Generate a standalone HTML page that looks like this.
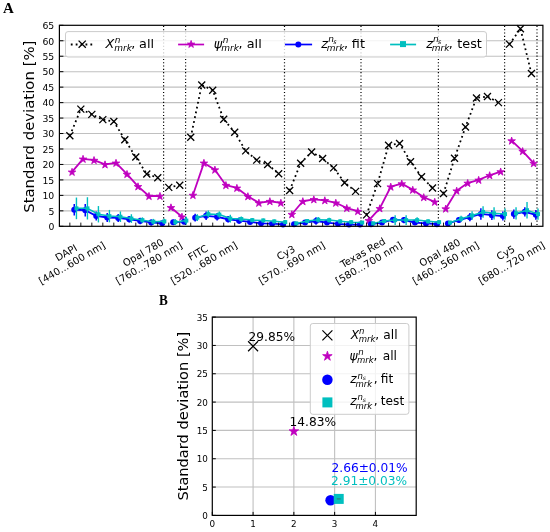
<!DOCTYPE html>
<html><head><meta charset="utf-8"><style>
html,body{margin:0;padding:0;background:#fff;}
svg{display:block;}

</style></head><body>
<svg width="550" height="532" viewBox="0 0 550 532">
<rect width="550" height="532" fill="#fff"/>
<line x1="59.4" y1="210.84" x2="542.9" y2="210.84" stroke="#c0c0c0" stroke-width="1.1" />
<line x1="59.4" y1="195.38" x2="542.9" y2="195.38" stroke="#c0c0c0" stroke-width="1.1" />
<line x1="59.4" y1="179.92" x2="542.9" y2="179.92" stroke="#c0c0c0" stroke-width="1.1" />
<line x1="59.4" y1="164.45" x2="542.9" y2="164.45" stroke="#c0c0c0" stroke-width="1.1" />
<line x1="59.4" y1="148.99" x2="542.9" y2="148.99" stroke="#c0c0c0" stroke-width="1.1" />
<line x1="59.4" y1="133.53" x2="542.9" y2="133.53" stroke="#c0c0c0" stroke-width="1.1" />
<line x1="59.4" y1="118.07" x2="542.9" y2="118.07" stroke="#c0c0c0" stroke-width="1.1" />
<line x1="59.4" y1="102.61" x2="542.9" y2="102.61" stroke="#c0c0c0" stroke-width="1.1" />
<line x1="59.4" y1="87.15" x2="542.9" y2="87.15" stroke="#c0c0c0" stroke-width="1.1" />
<line x1="59.4" y1="71.68" x2="542.9" y2="71.68" stroke="#c0c0c0" stroke-width="1.1" />
<line x1="59.4" y1="56.22" x2="542.9" y2="56.22" stroke="#c0c0c0" stroke-width="1.1" />
<line x1="59.4" y1="40.76" x2="542.9" y2="40.76" stroke="#c0c0c0" stroke-width="1.1" />
<line x1="163.6" y1="25.9" x2="163.6" y2="226.3" stroke="#000000" stroke-width="1.2" stroke-dasharray="1.1 2.2"/>
<line x1="185.6" y1="25.9" x2="185.6" y2="226.3" stroke="#000000" stroke-width="1.2" stroke-dasharray="1.1 2.2"/>
<line x1="284.5" y1="25.9" x2="284.5" y2="226.3" stroke="#000000" stroke-width="1.2" stroke-dasharray="1.1 2.2"/>
<line x1="361" y1="25.9" x2="361" y2="226.3" stroke="#000000" stroke-width="1.2" stroke-dasharray="1.1 2.2"/>
<line x1="438.4" y1="25.9" x2="438.4" y2="226.3" stroke="#000000" stroke-width="1.2" stroke-dasharray="1.1 2.2"/>
<line x1="504.6" y1="25.9" x2="504.6" y2="226.3" stroke="#000000" stroke-width="1.2" stroke-dasharray="1.1 2.2"/>
<line x1="537" y1="25.9" x2="537" y2="226.3" stroke="#000000" stroke-width="1.2" stroke-dasharray="1.1 2.2"/>
<polyline points="69.85,135.7 80.84,109.1 91.83,114.36 102.82,119.62 113.81,121.47 124.8,139.72 135.79,157.03 146.78,174.04 157.77,177.75" fill="none" stroke="#000000" stroke-width="1.8" stroke-linejoin="round" stroke-dasharray="1.8 3.1"/>
<path d="M66.35,132.2L73.35,139.2M66.35,139.2L73.35,132.2" stroke="#000000" stroke-width="1.3" fill="none"/>
<path d="M77.34,105.6L84.34,112.6M77.34,112.6L84.34,105.6" stroke="#000000" stroke-width="1.3" fill="none"/>
<path d="M88.33,110.86L95.33,117.86M88.33,117.86L95.33,110.86" stroke="#000000" stroke-width="1.3" fill="none"/>
<path d="M99.32,116.12L106.32,123.12M99.32,123.12L106.32,116.12" stroke="#000000" stroke-width="1.3" fill="none"/>
<path d="M110.31,117.97L117.31,124.97M110.31,124.97L117.31,117.97" stroke="#000000" stroke-width="1.3" fill="none"/>
<path d="M121.3,136.22L128.3,143.22M121.3,143.22L128.3,136.22" stroke="#000000" stroke-width="1.3" fill="none"/>
<path d="M132.29,153.53L139.29,160.53M132.29,160.53L139.29,153.53" stroke="#000000" stroke-width="1.3" fill="none"/>
<path d="M143.28,170.54L150.28,177.54M143.28,177.54L150.28,170.54" stroke="#000000" stroke-width="1.3" fill="none"/>
<path d="M154.27,174.25L161.27,181.25M154.27,181.25L161.27,174.25" stroke="#000000" stroke-width="1.3" fill="none"/>
<polyline points="72.05,171.88 83.04,158.89 94.03,160.12 105.02,164.45 116.01,162.91 127,174.04 137.99,186.41 148.98,196 159.97,196" fill="none" stroke="#bf00bf" stroke-width="1.8" stroke-linejoin="round" />
<polygon points="72.05,168.28 71.15,171.04 68.24,171.04 70.59,172.75 69.7,175.51 72.05,173.8 74.4,175.51 73.5,172.75 75.85,171.04 72.95,171.04" fill="#bf00bf" stroke="#bf00bf" stroke-width="0.8" stroke-linejoin="miter"/>
<polygon points="83.04,155.29 82.14,158.05 79.23,158.05 81.58,159.76 80.69,162.52 83.04,160.82 85.39,162.52 84.49,159.76 86.84,158.05 83.94,158.05" fill="#bf00bf" stroke="#bf00bf" stroke-width="0.8" stroke-linejoin="miter"/>
<polygon points="94.03,156.52 93.13,159.29 90.22,159.29 92.57,161 91.68,163.76 94.03,162.05 96.38,163.76 95.48,161 97.83,159.29 94.93,159.29" fill="#bf00bf" stroke="#bf00bf" stroke-width="0.8" stroke-linejoin="miter"/>
<polygon points="105.02,160.85 104.12,163.62 101.21,163.62 103.56,165.33 102.67,168.09 105.02,166.38 107.37,168.09 106.47,165.33 108.82,163.62 105.92,163.62" fill="#bf00bf" stroke="#bf00bf" stroke-width="0.8" stroke-linejoin="miter"/>
<polygon points="116.01,159.31 115.11,162.07 112.2,162.07 114.55,163.78 113.66,166.54 116.01,164.84 118.36,166.54 117.46,163.78 119.81,162.07 116.91,162.07" fill="#bf00bf" stroke="#bf00bf" stroke-width="0.8" stroke-linejoin="miter"/>
<polygon points="127,170.44 126.1,173.2 123.19,173.2 125.54,174.91 124.65,177.68 127,175.97 129.35,177.68 128.45,174.91 130.8,173.2 127.9,173.2" fill="#bf00bf" stroke="#bf00bf" stroke-width="0.8" stroke-linejoin="miter"/>
<polygon points="137.99,182.81 137.09,185.57 134.18,185.57 136.53,187.28 135.64,190.05 137.99,188.34 140.34,190.05 139.44,187.28 141.79,185.57 138.89,185.57" fill="#bf00bf" stroke="#bf00bf" stroke-width="0.8" stroke-linejoin="miter"/>
<polygon points="148.98,192.4 148.08,195.16 145.17,195.16 147.52,196.87 146.63,199.63 148.98,197.92 151.33,199.63 150.43,196.87 152.78,195.16 149.88,195.16" fill="#bf00bf" stroke="#bf00bf" stroke-width="0.8" stroke-linejoin="miter"/>
<polygon points="159.97,192.4 159.07,195.16 156.16,195.16 158.51,196.87 157.62,199.63 159.97,197.92 162.32,199.63 161.42,196.87 163.77,195.16 160.87,195.16" fill="#bf00bf" stroke="#bf00bf" stroke-width="0.8" stroke-linejoin="miter"/>
<line x1="74.25" y1="215.51" x2="74.25" y2="204" stroke="#0000ff" stroke-width="1.5" />
<line x1="85.24" y1="216.4" x2="85.24" y2="204.04" stroke="#0000ff" stroke-width="1.5" />
<line x1="96.23" y1="220.39" x2="96.23" y2="211.43" stroke="#0000ff" stroke-width="1.5" />
<line x1="107.22" y1="221.97" x2="107.22" y2="213" stroke="#0000ff" stroke-width="1.5" />
<line x1="118.21" y1="221.91" x2="118.21" y2="213.99" stroke="#0000ff" stroke-width="1.5" />
<line x1="129.2" y1="222.5" x2="129.2" y2="216" stroke="#0000ff" stroke-width="1.5" />
<line x1="140.19" y1="224.14" x2="140.19" y2="217.64" stroke="#0000ff" stroke-width="1.5" />
<line x1="151.18" y1="225.4" x2="151.18" y2="219.53" stroke="#0000ff" stroke-width="1.5" />
<line x1="162.17" y1="225.84" x2="162.17" y2="220.89" stroke="#0000ff" stroke-width="1.5" />
<polyline points="74.25,209.76 85.24,210.22 96.23,215.91 107.22,217.49 118.21,217.95 129.2,219.25 140.19,220.89 151.18,222.47 162.17,223.36" fill="none" stroke="#0000ff" stroke-width="1.8" stroke-linejoin="round" />
<circle cx="74.25" cy="209.76" r="3" fill="#0000ff"/>
<circle cx="85.24" cy="210.22" r="3" fill="#0000ff"/>
<circle cx="96.23" cy="215.91" r="3" fill="#0000ff"/>
<circle cx="107.22" cy="217.49" r="3" fill="#0000ff"/>
<circle cx="118.21" cy="217.95" r="3" fill="#0000ff"/>
<circle cx="129.2" cy="219.25" r="3" fill="#0000ff"/>
<circle cx="140.19" cy="220.89" r="3" fill="#0000ff"/>
<circle cx="151.18" cy="222.47" r="3" fill="#0000ff"/>
<circle cx="162.17" cy="223.36" r="3" fill="#0000ff"/>
<line x1="76.44" y1="219.19" x2="76.44" y2="197.54" stroke="#00bfbf" stroke-width="1.4" />
<line x1="87.43" y1="219.5" x2="87.43" y2="197.23" stroke="#00bfbf" stroke-width="1.4" />
<line x1="98.42" y1="222.43" x2="98.42" y2="206.05" stroke="#00bfbf" stroke-width="1.4" />
<line x1="109.41" y1="222.28" x2="109.41" y2="209.91" stroke="#00bfbf" stroke-width="1.4" />
<line x1="120.4" y1="221.97" x2="120.4" y2="211.46" stroke="#00bfbf" stroke-width="1.4" />
<line x1="131.39" y1="222.9" x2="131.39" y2="214.24" stroke="#00bfbf" stroke-width="1.4" />
<line x1="142.38" y1="222.9" x2="142.38" y2="217.33" stroke="#00bfbf" stroke-width="1.4" />
<line x1="153.37" y1="224.44" x2="153.37" y2="218.88" stroke="#00bfbf" stroke-width="1.4" />
<line x1="164.36" y1="223.98" x2="164.36" y2="218.72" stroke="#00bfbf" stroke-width="1.4" />
<polyline points="76.44,208.36 87.43,208.36 98.42,214.24 109.41,216.1 120.4,216.71 131.39,218.57 142.38,220.12 153.37,221.66 164.36,221.35" fill="none" stroke="#00bfbf" stroke-width="1.5" stroke-linejoin="round" />
<rect x="74.44" y="206.36" width="4" height="4" fill="#00bfbf"/>
<rect x="85.43" y="206.36" width="4" height="4" fill="#00bfbf"/>
<rect x="96.42" y="212.24" width="4" height="4" fill="#00bfbf"/>
<rect x="107.41" y="214.1" width="4" height="4" fill="#00bfbf"/>
<rect x="118.4" y="214.71" width="4" height="4" fill="#00bfbf"/>
<rect x="129.39" y="216.57" width="4" height="4" fill="#00bfbf"/>
<rect x="140.38" y="218.12" width="4" height="4" fill="#00bfbf"/>
<rect x="151.37" y="219.66" width="4" height="4" fill="#00bfbf"/>
<rect x="162.36" y="219.35" width="4" height="4" fill="#00bfbf"/>
<polyline points="168.76,187.34 179.75,185.17" fill="none" stroke="#000000" stroke-width="1.8" stroke-linejoin="round" stroke-dasharray="1.8 3.1"/>
<path d="M165.26,183.84L172.26,190.84M165.26,190.84L172.26,183.84" stroke="#000000" stroke-width="1.3" fill="none"/>
<path d="M176.25,181.67L183.25,188.67M176.25,188.67L183.25,181.67" stroke="#000000" stroke-width="1.3" fill="none"/>
<polyline points="170.96,207.44 181.95,216.71" fill="none" stroke="#bf00bf" stroke-width="1.8" stroke-linejoin="round" />
<polygon points="170.96,203.84 170.06,206.6 167.15,206.6 169.5,208.31 168.61,211.07 170.96,209.36 173.31,211.07 172.41,208.31 174.76,206.6 171.86,206.6" fill="#bf00bf" stroke="#bf00bf" stroke-width="0.8" stroke-linejoin="miter"/>
<polygon points="181.95,213.11 181.05,215.88 178.14,215.88 180.49,217.59 179.6,220.35 181.95,218.64 184.3,220.35 183.4,217.59 185.75,215.88 182.85,215.88" fill="#bf00bf" stroke="#bf00bf" stroke-width="0.8" stroke-linejoin="miter"/>
<line x1="173.16" y1="224.6" x2="173.16" y2="219.65" stroke="#0000ff" stroke-width="1.5" />
<line x1="184.15" y1="224.14" x2="184.15" y2="219.19" stroke="#0000ff" stroke-width="1.5" />
<polyline points="173.16,222.13 184.15,221.66" fill="none" stroke="#0000ff" stroke-width="1.8" stroke-linejoin="round" />
<circle cx="173.16" cy="222.13" r="3" fill="#0000ff"/>
<circle cx="184.15" cy="221.66" r="3" fill="#0000ff"/>
<line x1="175.35" y1="225.06" x2="175.35" y2="219.19" stroke="#00bfbf" stroke-width="1.4" />
<line x1="186.34" y1="224.44" x2="186.34" y2="216.71" stroke="#00bfbf" stroke-width="1.4" />
<polyline points="175.35,222.13 186.34,220.58" fill="none" stroke="#00bfbf" stroke-width="1.5" stroke-linejoin="round" />
<rect x="173.35" y="220.13" width="4" height="4" fill="#00bfbf"/>
<rect x="184.34" y="218.58" width="4" height="4" fill="#00bfbf"/>
<polyline points="190.74,137.24 201.73,84.98 212.72,90.24 223.71,119.31 234.7,132.29 245.69,150.85 256.68,160.12 267.67,164.45 278.66,173.73" fill="none" stroke="#000000" stroke-width="1.8" stroke-linejoin="round" stroke-dasharray="1.8 3.1"/>
<path d="M187.24,133.74L194.24,140.74M187.24,140.74L194.24,133.74" stroke="#000000" stroke-width="1.3" fill="none"/>
<path d="M198.23,81.48L205.23,88.48M198.23,88.48L205.23,81.48" stroke="#000000" stroke-width="1.3" fill="none"/>
<path d="M209.22,86.74L216.22,93.74M209.22,93.74L216.22,86.74" stroke="#000000" stroke-width="1.3" fill="none"/>
<path d="M220.21,115.81L227.21,122.81M220.21,122.81L227.21,115.81" stroke="#000000" stroke-width="1.3" fill="none"/>
<path d="M231.2,128.79L238.2,135.79M231.2,135.79L238.2,128.79" stroke="#000000" stroke-width="1.3" fill="none"/>
<path d="M242.19,147.35L249.19,154.35M242.19,154.35L249.19,147.35" stroke="#000000" stroke-width="1.3" fill="none"/>
<path d="M253.18,156.62L260.18,163.62M253.18,163.62L260.18,156.62" stroke="#000000" stroke-width="1.3" fill="none"/>
<path d="M264.17,160.95L271.17,167.95M264.17,167.95L271.17,160.95" stroke="#000000" stroke-width="1.3" fill="none"/>
<path d="M275.16,170.23L282.16,177.23M275.16,177.23L282.16,170.23" stroke="#000000" stroke-width="1.3" fill="none"/>
<polyline points="192.94,195.07 203.93,162.91 214.92,169.71 225.91,185.17 236.9,187.96 247.89,196.3 258.88,202.8 269.87,201.25 280.86,202.8" fill="none" stroke="#bf00bf" stroke-width="1.8" stroke-linejoin="round" />
<polygon points="192.94,191.47 192.04,194.23 189.13,194.23 191.48,195.94 190.59,198.7 192.94,197 195.29,198.7 194.39,195.94 196.74,194.23 193.84,194.23" fill="#bf00bf" stroke="#bf00bf" stroke-width="0.8" stroke-linejoin="miter"/>
<polygon points="203.93,159.31 203.03,162.07 200.12,162.07 202.47,163.78 201.58,166.54 203.93,164.84 206.28,166.54 205.38,163.78 207.73,162.07 204.83,162.07" fill="#bf00bf" stroke="#bf00bf" stroke-width="0.8" stroke-linejoin="miter"/>
<polygon points="214.92,166.11 214.02,168.87 211.11,168.87 213.46,170.58 212.57,173.35 214.92,171.64 217.27,173.35 216.37,170.58 218.72,168.87 215.82,168.87" fill="#bf00bf" stroke="#bf00bf" stroke-width="0.8" stroke-linejoin="miter"/>
<polygon points="225.91,181.57 225.01,184.34 222.1,184.34 224.45,186.04 223.56,188.81 225.91,187.1 228.26,188.81 227.36,186.04 229.71,184.34 226.81,184.34" fill="#bf00bf" stroke="#bf00bf" stroke-width="0.8" stroke-linejoin="miter"/>
<polygon points="236.9,184.36 236,187.12 233.09,187.12 235.44,188.83 234.55,191.59 236.9,189.88 239.25,191.59 238.35,188.83 240.7,187.12 237.8,187.12" fill="#bf00bf" stroke="#bf00bf" stroke-width="0.8" stroke-linejoin="miter"/>
<polygon points="247.89,192.7 246.99,195.47 244.08,195.47 246.43,197.18 245.54,199.94 247.89,198.23 250.24,199.94 249.34,197.18 251.69,195.47 248.79,195.47" fill="#bf00bf" stroke="#bf00bf" stroke-width="0.8" stroke-linejoin="miter"/>
<polygon points="258.88,199.2 257.98,201.96 255.07,201.96 257.42,203.67 256.53,206.43 258.88,204.73 261.23,206.43 260.33,203.67 262.68,201.96 259.78,201.96" fill="#bf00bf" stroke="#bf00bf" stroke-width="0.8" stroke-linejoin="miter"/>
<polygon points="269.87,197.65 268.97,200.42 266.06,200.42 268.41,202.12 267.52,204.89 269.87,203.18 272.22,204.89 271.32,202.12 273.67,200.42 270.77,200.42" fill="#bf00bf" stroke="#bf00bf" stroke-width="0.8" stroke-linejoin="miter"/>
<polygon points="280.86,199.2 279.96,201.96 277.05,201.96 279.4,203.67 278.51,206.43 280.86,204.73 283.21,206.43 282.31,203.67 284.66,201.96 281.76,201.96" fill="#bf00bf" stroke="#bf00bf" stroke-width="0.8" stroke-linejoin="miter"/>
<line x1="195.14" y1="221.51" x2="195.14" y2="213.78" stroke="#0000ff" stroke-width="1.5" />
<line x1="206.13" y1="220.12" x2="206.13" y2="211.46" stroke="#0000ff" stroke-width="1.5" />
<line x1="217.12" y1="220.52" x2="217.12" y2="213.1" stroke="#0000ff" stroke-width="1.5" />
<line x1="228.11" y1="222.5" x2="228.11" y2="216" stroke="#0000ff" stroke-width="1.5" />
<line x1="239.1" y1="223.76" x2="239.1" y2="217.58" stroke="#0000ff" stroke-width="1.5" />
<line x1="250.09" y1="224.44" x2="250.09" y2="219.5" stroke="#0000ff" stroke-width="1.5" />
<line x1="261.08" y1="225.47" x2="261.08" y2="221.14" stroke="#0000ff" stroke-width="1.5" />
<line x1="272.07" y1="225.84" x2="272.07" y2="221.51" stroke="#0000ff" stroke-width="1.5" />
<line x1="283.06" y1="226.3" x2="283.06" y2="222.59" stroke="#0000ff" stroke-width="1.5" />
<polyline points="195.14,217.64 206.13,215.79 217.12,216.81 228.11,219.25 239.1,220.67 250.09,221.97 261.08,223.3 272.07,223.67 283.06,224.44" fill="none" stroke="#0000ff" stroke-width="1.8" stroke-linejoin="round" />
<circle cx="195.14" cy="217.64" r="3" fill="#0000ff"/>
<circle cx="206.13" cy="215.79" r="3" fill="#0000ff"/>
<circle cx="217.12" cy="216.81" r="3" fill="#0000ff"/>
<circle cx="228.11" cy="219.25" r="3" fill="#0000ff"/>
<circle cx="239.1" cy="220.67" r="3" fill="#0000ff"/>
<circle cx="250.09" cy="221.97" r="3" fill="#0000ff"/>
<circle cx="261.08" cy="223.3" r="3" fill="#0000ff"/>
<circle cx="272.07" cy="223.67" r="3" fill="#0000ff"/>
<circle cx="283.06" cy="224.44" r="3" fill="#0000ff"/>
<line x1="197.33" y1="221.04" x2="197.33" y2="214.24" stroke="#00bfbf" stroke-width="1.4" />
<line x1="208.32" y1="217.64" x2="208.32" y2="210.53" stroke="#00bfbf" stroke-width="1.4" />
<line x1="219.31" y1="217.64" x2="219.31" y2="211.46" stroke="#00bfbf" stroke-width="1.4" />
<line x1="230.3" y1="222.43" x2="230.3" y2="214.7" stroke="#00bfbf" stroke-width="1.4" />
<line x1="241.29" y1="221.66" x2="241.29" y2="216.4" stroke="#00bfbf" stroke-width="1.4" />
<line x1="252.28" y1="222.13" x2="252.28" y2="218.11" stroke="#00bfbf" stroke-width="1.4" />
<line x1="263.27" y1="222.43" x2="263.27" y2="218.41" stroke="#00bfbf" stroke-width="1.4" />
<line x1="274.26" y1="223.21" x2="274.26" y2="219.5" stroke="#00bfbf" stroke-width="1.4" />
<line x1="285.25" y1="223.98" x2="285.25" y2="220.27" stroke="#00bfbf" stroke-width="1.4" />
<polyline points="197.33,217.64 208.32,214.09 219.31,214.55 230.3,218.57 241.29,219.03 252.28,220.12 263.27,220.42 274.26,221.35 285.25,222.13" fill="none" stroke="#00bfbf" stroke-width="1.5" stroke-linejoin="round" />
<rect x="195.33" y="215.64" width="4" height="4" fill="#00bfbf"/>
<rect x="206.32" y="212.09" width="4" height="4" fill="#00bfbf"/>
<rect x="217.31" y="212.55" width="4" height="4" fill="#00bfbf"/>
<rect x="228.3" y="216.57" width="4" height="4" fill="#00bfbf"/>
<rect x="239.29" y="217.03" width="4" height="4" fill="#00bfbf"/>
<rect x="250.28" y="218.12" width="4" height="4" fill="#00bfbf"/>
<rect x="261.27" y="218.42" width="4" height="4" fill="#00bfbf"/>
<rect x="272.26" y="219.35" width="4" height="4" fill="#00bfbf"/>
<rect x="283.25" y="220.13" width="4" height="4" fill="#00bfbf"/>
<polyline points="289.65,190.43 300.64,163.22 311.63,152.08 322.62,158.58 333.61,167.86 344.6,182.7 355.59,191.36" fill="none" stroke="#000000" stroke-width="1.8" stroke-linejoin="round" stroke-dasharray="1.8 3.1"/>
<path d="M286.15,186.93L293.15,193.93M286.15,193.93L293.15,186.93" stroke="#000000" stroke-width="1.3" fill="none"/>
<path d="M297.14,159.72L304.14,166.72M297.14,166.72L304.14,159.72" stroke="#000000" stroke-width="1.3" fill="none"/>
<path d="M308.13,148.58L315.13,155.58M308.13,155.58L315.13,148.58" stroke="#000000" stroke-width="1.3" fill="none"/>
<path d="M319.12,155.08L326.12,162.08M319.12,162.08L326.12,155.08" stroke="#000000" stroke-width="1.3" fill="none"/>
<path d="M330.11,164.36L337.11,171.36M330.11,171.36L337.11,164.36" stroke="#000000" stroke-width="1.3" fill="none"/>
<path d="M341.1,179.2L348.1,186.2M341.1,186.2L348.1,179.2" stroke="#000000" stroke-width="1.3" fill="none"/>
<path d="M352.09,187.86L359.09,194.86M352.09,194.86L359.09,187.86" stroke="#000000" stroke-width="1.3" fill="none"/>
<polyline points="291.85,214.24 302.84,201.25 313.83,199.4 324.82,200.32 335.81,202.8 346.8,208.06 357.79,211.15" fill="none" stroke="#bf00bf" stroke-width="1.8" stroke-linejoin="round" />
<polygon points="291.85,210.64 290.95,213.4 288.04,213.4 290.39,215.11 289.5,217.88 291.85,216.17 294.2,217.88 293.3,215.11 295.65,213.4 292.75,213.4" fill="#bf00bf" stroke="#bf00bf" stroke-width="0.8" stroke-linejoin="miter"/>
<polygon points="302.84,197.65 301.94,200.42 299.03,200.42 301.38,202.12 300.49,204.89 302.84,203.18 305.19,204.89 304.29,202.12 306.64,200.42 303.74,200.42" fill="#bf00bf" stroke="#bf00bf" stroke-width="0.8" stroke-linejoin="miter"/>
<polygon points="313.83,195.8 312.93,198.56 310.02,198.56 312.37,200.27 311.48,203.03 313.83,201.32 316.18,203.03 315.28,200.27 317.63,198.56 314.73,198.56" fill="#bf00bf" stroke="#bf00bf" stroke-width="0.8" stroke-linejoin="miter"/>
<polygon points="324.82,196.72 323.92,199.49 321.01,199.49 323.36,201.2 322.47,203.96 324.82,202.25 327.17,203.96 326.27,201.2 328.62,199.49 325.72,199.49" fill="#bf00bf" stroke="#bf00bf" stroke-width="0.8" stroke-linejoin="miter"/>
<polygon points="335.81,199.2 334.91,201.96 332,201.96 334.35,203.67 333.46,206.43 335.81,204.73 338.16,206.43 337.26,203.67 339.61,201.96 336.71,201.96" fill="#bf00bf" stroke="#bf00bf" stroke-width="0.8" stroke-linejoin="miter"/>
<polygon points="346.8,204.46 345.9,207.22 342.99,207.22 345.34,208.93 344.45,211.69 346.8,209.98 349.15,211.69 348.25,208.93 350.6,207.22 347.7,207.22" fill="#bf00bf" stroke="#bf00bf" stroke-width="0.8" stroke-linejoin="miter"/>
<polygon points="357.79,207.55 356.89,210.31 353.98,210.31 356.33,212.02 355.44,214.78 357.79,213.08 360.14,214.78 359.24,212.02 361.59,210.31 358.69,210.31" fill="#bf00bf" stroke="#bf00bf" stroke-width="0.8" stroke-linejoin="miter"/>
<line x1="294.05" y1="225.74" x2="294.05" y2="222.65" stroke="#0000ff" stroke-width="1.5" />
<line x1="305.04" y1="225.06" x2="305.04" y2="220.12" stroke="#0000ff" stroke-width="1.5" />
<line x1="316.03" y1="224.72" x2="316.03" y2="217.3" stroke="#0000ff" stroke-width="1.5" />
<line x1="327.02" y1="225.06" x2="327.02" y2="220.12" stroke="#0000ff" stroke-width="1.5" />
<line x1="338.01" y1="225.68" x2="338.01" y2="221.97" stroke="#0000ff" stroke-width="1.5" />
<line x1="349" y1="226.15" x2="349" y2="223.05" stroke="#0000ff" stroke-width="1.5" />
<line x1="359.99" y1="226.15" x2="359.99" y2="223.05" stroke="#0000ff" stroke-width="1.5" />
<polyline points="294.05,224.2 305.04,222.59 316.03,221.01 327.02,222.59 338.01,223.83 349,224.6 359.99,224.6" fill="none" stroke="#0000ff" stroke-width="1.8" stroke-linejoin="round" />
<circle cx="294.05" cy="224.2" r="3" fill="#0000ff"/>
<circle cx="305.04" cy="222.59" r="3" fill="#0000ff"/>
<circle cx="316.03" cy="221.01" r="3" fill="#0000ff"/>
<circle cx="327.02" cy="222.59" r="3" fill="#0000ff"/>
<circle cx="338.01" cy="223.83" r="3" fill="#0000ff"/>
<circle cx="349" cy="224.6" r="3" fill="#0000ff"/>
<circle cx="359.99" cy="224.6" r="3" fill="#0000ff"/>
<line x1="296.24" y1="224.94" x2="296.24" y2="221.85" stroke="#00bfbf" stroke-width="1.4" />
<line x1="307.23" y1="223.21" x2="307.23" y2="218.88" stroke="#00bfbf" stroke-width="1.4" />
<line x1="318.22" y1="222.5" x2="318.22" y2="216.93" stroke="#00bfbf" stroke-width="1.4" />
<line x1="329.21" y1="222.59" x2="329.21" y2="217.64" stroke="#00bfbf" stroke-width="1.4" />
<line x1="340.2" y1="223.52" x2="340.2" y2="219.19" stroke="#00bfbf" stroke-width="1.4" />
<line x1="351.19" y1="224.04" x2="351.19" y2="220.33" stroke="#00bfbf" stroke-width="1.4" />
<line x1="362.18" y1="224.14" x2="362.18" y2="221.04" stroke="#00bfbf" stroke-width="1.4" />
<polyline points="296.24,223.39 307.23,221.04 318.22,219.71 329.21,220.12 340.2,221.35 351.19,222.19 362.18,222.59" fill="none" stroke="#00bfbf" stroke-width="1.5" stroke-linejoin="round" />
<rect x="294.24" y="221.39" width="4" height="4" fill="#00bfbf"/>
<rect x="305.23" y="219.04" width="4" height="4" fill="#00bfbf"/>
<rect x="316.22" y="217.71" width="4" height="4" fill="#00bfbf"/>
<rect x="327.21" y="218.12" width="4" height="4" fill="#00bfbf"/>
<rect x="338.2" y="219.35" width="4" height="4" fill="#00bfbf"/>
<rect x="349.19" y="220.19" width="4" height="4" fill="#00bfbf"/>
<rect x="360.18" y="220.59" width="4" height="4" fill="#00bfbf"/>
<polyline points="366.58,214.86 377.57,183.63 388.56,145.28 399.55,143.43 410.54,161.67 421.53,176.82 432.52,187.96" fill="none" stroke="#000000" stroke-width="1.8" stroke-linejoin="round" stroke-dasharray="1.8 3.1"/>
<path d="M363.08,211.36L370.08,218.36M363.08,218.36L370.08,211.36" stroke="#000000" stroke-width="1.3" fill="none"/>
<path d="M374.07,180.13L381.07,187.13M374.07,187.13L381.07,180.13" stroke="#000000" stroke-width="1.3" fill="none"/>
<path d="M385.06,141.78L392.06,148.78M385.06,148.78L392.06,141.78" stroke="#000000" stroke-width="1.3" fill="none"/>
<path d="M396.05,139.93L403.05,146.93M396.05,146.93L403.05,139.93" stroke="#000000" stroke-width="1.3" fill="none"/>
<path d="M407.04,158.17L414.04,165.17M407.04,165.17L414.04,158.17" stroke="#000000" stroke-width="1.3" fill="none"/>
<path d="M418.03,173.32L425.03,180.32M418.03,180.32L425.03,173.32" stroke="#000000" stroke-width="1.3" fill="none"/>
<path d="M429.02,184.46L436.02,191.46M429.02,191.46L436.02,184.46" stroke="#000000" stroke-width="1.3" fill="none"/>
<polyline points="368.78,220.42 379.77,208.36 390.76,186.72 401.75,183.63 412.74,189.81 423.73,197.23 434.72,201.87" fill="none" stroke="#bf00bf" stroke-width="1.8" stroke-linejoin="round" />
<polygon points="368.78,216.82 367.88,219.59 364.97,219.59 367.32,221.3 366.43,224.06 368.78,222.35 371.13,224.06 370.23,221.3 372.58,219.59 369.68,219.59" fill="#bf00bf" stroke="#bf00bf" stroke-width="0.8" stroke-linejoin="miter"/>
<polygon points="379.77,204.76 378.87,207.53 375.96,207.53 378.31,209.24 377.42,212 379.77,210.29 382.12,212 381.22,209.24 383.57,207.53 380.67,207.53" fill="#bf00bf" stroke="#bf00bf" stroke-width="0.8" stroke-linejoin="miter"/>
<polygon points="390.76,183.12 389.86,185.88 386.95,185.88 389.3,187.59 388.41,190.35 390.76,188.65 393.11,190.35 392.21,187.59 394.56,185.88 391.66,185.88" fill="#bf00bf" stroke="#bf00bf" stroke-width="0.8" stroke-linejoin="miter"/>
<polygon points="401.75,180.03 400.85,182.79 397.94,182.79 400.29,184.5 399.4,187.26 401.75,185.55 404.1,187.26 403.2,184.5 405.55,182.79 402.65,182.79" fill="#bf00bf" stroke="#bf00bf" stroke-width="0.8" stroke-linejoin="miter"/>
<polygon points="412.74,186.21 411.84,188.97 408.93,188.97 411.28,190.68 410.39,193.45 412.74,191.74 415.09,193.45 414.19,190.68 416.54,188.97 413.64,188.97" fill="#bf00bf" stroke="#bf00bf" stroke-width="0.8" stroke-linejoin="miter"/>
<polygon points="423.73,193.63 422.83,196.4 419.92,196.4 422.27,198.1 421.38,200.87 423.73,199.16 426.08,200.87 425.18,198.1 427.53,196.4 424.63,196.4" fill="#bf00bf" stroke="#bf00bf" stroke-width="0.8" stroke-linejoin="miter"/>
<polygon points="434.72,198.27 433.82,201.03 430.91,201.03 433.26,202.74 432.37,205.51 434.72,203.8 437.07,205.51 436.17,202.74 438.52,201.03 435.62,201.03" fill="#bf00bf" stroke="#bf00bf" stroke-width="0.8" stroke-linejoin="miter"/>
<line x1="370.98" y1="225.74" x2="370.98" y2="222.65" stroke="#0000ff" stroke-width="1.5" />
<line x1="381.97" y1="224.75" x2="381.97" y2="220.42" stroke="#0000ff" stroke-width="1.5" />
<line x1="392.96" y1="222.4" x2="392.96" y2="217.02" stroke="#0000ff" stroke-width="1.5" />
<line x1="403.95" y1="223.21" x2="403.95" y2="217.02" stroke="#0000ff" stroke-width="1.5" />
<line x1="414.94" y1="225.06" x2="414.94" y2="220.12" stroke="#0000ff" stroke-width="1.5" />
<line x1="425.93" y1="225.56" x2="425.93" y2="221.23" stroke="#0000ff" stroke-width="1.5" />
<line x1="436.92" y1="226.05" x2="436.92" y2="222.34" stroke="#0000ff" stroke-width="1.5" />
<polyline points="370.98,224.2 381.97,222.59 392.96,219.71 403.95,220.12 414.94,222.59 425.93,223.39 436.92,224.2" fill="none" stroke="#0000ff" stroke-width="1.8" stroke-linejoin="round" />
<circle cx="370.98" cy="224.2" r="3" fill="#0000ff"/>
<circle cx="381.97" cy="222.59" r="3" fill="#0000ff"/>
<circle cx="392.96" cy="219.71" r="3" fill="#0000ff"/>
<circle cx="403.95" cy="220.12" r="3" fill="#0000ff"/>
<circle cx="414.94" cy="222.59" r="3" fill="#0000ff"/>
<circle cx="425.93" cy="223.39" r="3" fill="#0000ff"/>
<circle cx="436.92" cy="224.2" r="3" fill="#0000ff"/>
<line x1="373.17" y1="224.94" x2="373.17" y2="221.85" stroke="#00bfbf" stroke-width="1.4" />
<line x1="384.16" y1="223.21" x2="384.16" y2="218.88" stroke="#00bfbf" stroke-width="1.4" />
<line x1="395.15" y1="225.06" x2="395.15" y2="215.17" stroke="#00bfbf" stroke-width="1.4" />
<line x1="406.14" y1="225.06" x2="406.14" y2="215.17" stroke="#00bfbf" stroke-width="1.4" />
<line x1="417.13" y1="222.9" x2="417.13" y2="217.33" stroke="#00bfbf" stroke-width="1.4" />
<line x1="428.12" y1="223.52" x2="428.12" y2="219.19" stroke="#00bfbf" stroke-width="1.4" />
<line x1="439.11" y1="224.04" x2="439.11" y2="220.33" stroke="#00bfbf" stroke-width="1.4" />
<polyline points="373.17,223.39 384.16,221.04 395.15,220.12 406.14,220.12 417.13,220.12 428.12,221.35 439.11,222.19" fill="none" stroke="#00bfbf" stroke-width="1.5" stroke-linejoin="round" />
<rect x="371.17" y="221.39" width="4" height="4" fill="#00bfbf"/>
<rect x="382.16" y="219.04" width="4" height="4" fill="#00bfbf"/>
<rect x="393.15" y="218.12" width="4" height="4" fill="#00bfbf"/>
<rect x="404.14" y="218.12" width="4" height="4" fill="#00bfbf"/>
<rect x="415.13" y="218.12" width="4" height="4" fill="#00bfbf"/>
<rect x="426.12" y="219.35" width="4" height="4" fill="#00bfbf"/>
<rect x="437.11" y="220.19" width="4" height="4" fill="#00bfbf"/>
<polyline points="443.51,193.52 454.5,158.27 465.49,127.04 476.48,97.97 487.47,96.42 498.46,102.61" fill="none" stroke="#000000" stroke-width="1.8" stroke-linejoin="round" stroke-dasharray="1.8 3.1"/>
<path d="M440.01,190.02L447.01,197.02M440.01,197.02L447.01,190.02" stroke="#000000" stroke-width="1.3" fill="none"/>
<path d="M451,154.77L458,161.77M451,161.77L458,154.77" stroke="#000000" stroke-width="1.3" fill="none"/>
<path d="M461.99,123.54L468.99,130.54M461.99,130.54L468.99,123.54" stroke="#000000" stroke-width="1.3" fill="none"/>
<path d="M472.98,94.47L479.98,101.47M472.98,101.47L479.98,94.47" stroke="#000000" stroke-width="1.3" fill="none"/>
<path d="M483.97,92.92L490.97,99.92M483.97,99.92L490.97,92.92" stroke="#000000" stroke-width="1.3" fill="none"/>
<path d="M494.96,99.11L501.96,106.11M494.96,106.11L501.96,99.11" stroke="#000000" stroke-width="1.3" fill="none"/>
<polyline points="445.71,208.67 456.7,190.74 467.69,183.01 478.68,179.92 489.67,175.28 500.66,171.57" fill="none" stroke="#bf00bf" stroke-width="1.8" stroke-linejoin="round" />
<polygon points="445.71,205.07 444.81,207.84 441.9,207.84 444.25,209.55 443.36,212.31 445.71,210.6 448.06,212.31 447.16,209.55 449.51,207.84 446.61,207.84" fill="#bf00bf" stroke="#bf00bf" stroke-width="0.8" stroke-linejoin="miter"/>
<polygon points="456.7,187.14 455.8,189.9 452.89,189.9 455.24,191.61 454.35,194.37 456.7,192.67 459.05,194.37 458.15,191.61 460.5,189.9 457.6,189.9" fill="#bf00bf" stroke="#bf00bf" stroke-width="0.8" stroke-linejoin="miter"/>
<polygon points="467.69,179.41 466.79,182.17 463.88,182.17 466.23,183.88 465.34,186.64 467.69,184.94 470.04,186.64 469.14,183.88 471.49,182.17 468.59,182.17" fill="#bf00bf" stroke="#bf00bf" stroke-width="0.8" stroke-linejoin="miter"/>
<polygon points="478.68,176.32 477.78,179.08 474.87,179.08 477.22,180.79 476.33,183.55 478.68,181.84 481.03,183.55 480.13,180.79 482.48,179.08 479.58,179.08" fill="#bf00bf" stroke="#bf00bf" stroke-width="0.8" stroke-linejoin="miter"/>
<polygon points="489.67,171.68 488.77,174.44 485.86,174.44 488.21,176.15 487.32,178.91 489.67,177.2 492.02,178.91 491.12,176.15 493.47,174.44 490.57,174.44" fill="#bf00bf" stroke="#bf00bf" stroke-width="0.8" stroke-linejoin="miter"/>
<polygon points="500.66,167.97 499.76,170.73 496.85,170.73 499.2,172.44 498.31,175.2 500.66,173.49 503.01,175.2 502.11,172.44 504.46,170.73 501.56,170.73" fill="#bf00bf" stroke="#bf00bf" stroke-width="0.8" stroke-linejoin="miter"/>
<line x1="447.91" y1="225.25" x2="447.91" y2="221.54" stroke="#0000ff" stroke-width="1.5" />
<line x1="458.9" y1="223.05" x2="458.9" y2="217.18" stroke="#0000ff" stroke-width="1.5" />
<line x1="469.89" y1="221.29" x2="469.89" y2="213.06" stroke="#0000ff" stroke-width="1.5" />
<line x1="480.88" y1="219.68" x2="480.88" y2="208.18" stroke="#0000ff" stroke-width="1.5" />
<line x1="491.87" y1="220.12" x2="491.87" y2="210.22" stroke="#0000ff" stroke-width="1.5" />
<line x1="502.86" y1="220.58" x2="502.86" y2="211.61" stroke="#0000ff" stroke-width="1.5" />
<polyline points="447.91,223.39 458.9,220.12 469.89,217.18 480.88,213.93 491.87,215.17 502.86,216.1" fill="none" stroke="#0000ff" stroke-width="1.8" stroke-linejoin="round" />
<circle cx="447.91" cy="223.39" r="3" fill="#0000ff"/>
<circle cx="458.9" cy="220.12" r="3" fill="#0000ff"/>
<circle cx="469.89" cy="217.18" r="3" fill="#0000ff"/>
<circle cx="480.88" cy="213.93" r="3" fill="#0000ff"/>
<circle cx="491.87" cy="215.17" r="3" fill="#0000ff"/>
<circle cx="502.86" cy="216.1" r="3" fill="#0000ff"/>
<line x1="450.1" y1="224.44" x2="450.1" y2="220.73" stroke="#00bfbf" stroke-width="1.4" />
<line x1="461.09" y1="221.82" x2="461.09" y2="215.63" stroke="#00bfbf" stroke-width="1.4" />
<line x1="472.08" y1="219.81" x2="472.08" y2="211.15" stroke="#00bfbf" stroke-width="1.4" />
<line x1="483.07" y1="217.64" x2="483.07" y2="206.2" stroke="#00bfbf" stroke-width="1.4" />
<line x1="494.06" y1="219.5" x2="494.06" y2="207.13" stroke="#00bfbf" stroke-width="1.4" />
<line x1="505.05" y1="219.65" x2="505.05" y2="208.52" stroke="#00bfbf" stroke-width="1.4" />
<polyline points="450.1,222.59 461.09,218.72 472.08,215.48 483.07,211.92 494.06,213.31 505.05,214.09" fill="none" stroke="#00bfbf" stroke-width="1.5" stroke-linejoin="round" />
<rect x="448.1" y="220.59" width="4" height="4" fill="#00bfbf"/>
<rect x="459.09" y="216.72" width="4" height="4" fill="#00bfbf"/>
<rect x="470.08" y="213.48" width="4" height="4" fill="#00bfbf"/>
<rect x="481.07" y="209.92" width="4" height="4" fill="#00bfbf"/>
<rect x="492.06" y="211.31" width="4" height="4" fill="#00bfbf"/>
<rect x="503.05" y="212.09" width="4" height="4" fill="#00bfbf"/>
<polyline points="509.45,44.16 520.44,28.7 531.43,73.54" fill="none" stroke="#000000" stroke-width="1.8" stroke-linejoin="round" stroke-dasharray="1.8 3.1"/>
<path d="M505.95,40.66L512.95,47.66M505.95,47.66L512.95,40.66" stroke="#000000" stroke-width="1.3" fill="none"/>
<path d="M516.94,25.2L523.94,32.2M516.94,32.2L523.94,25.2" stroke="#000000" stroke-width="1.3" fill="none"/>
<path d="M527.93,70.04L534.93,77.04M527.93,77.04L534.93,70.04" stroke="#000000" stroke-width="1.3" fill="none"/>
<polyline points="511.65,140.64 522.64,151.16 533.63,163.22" fill="none" stroke="#bf00bf" stroke-width="1.8" stroke-linejoin="round" />
<polygon points="511.65,137.04 510.75,139.81 507.84,139.81 510.19,141.52 509.3,144.28 511.65,142.57 514,144.28 513.1,141.52 515.45,139.81 512.55,139.81" fill="#bf00bf" stroke="#bf00bf" stroke-width="0.8" stroke-linejoin="miter"/>
<polygon points="522.64,147.56 521.74,150.32 518.83,150.32 521.18,152.03 520.29,154.79 522.64,153.08 524.99,154.79 524.09,152.03 526.44,150.32 523.54,150.32" fill="#bf00bf" stroke="#bf00bf" stroke-width="0.8" stroke-linejoin="miter"/>
<polygon points="533.63,159.62 532.73,162.38 529.82,162.38 532.17,164.09 531.28,166.85 533.63,165.14 535.98,166.85 535.08,164.09 537.43,162.38 534.53,162.38" fill="#bf00bf" stroke="#bf00bf" stroke-width="0.8" stroke-linejoin="miter"/>
<line x1="513.85" y1="218.66" x2="513.85" y2="209.39" stroke="#0000ff" stroke-width="1.5" />
<line x1="524.84" y1="216.4" x2="524.84" y2="207.13" stroke="#0000ff" stroke-width="1.5" />
<line x1="535.83" y1="219.65" x2="535.83" y2="210.07" stroke="#0000ff" stroke-width="1.5" />
<polyline points="513.85,214.02 524.84,211.77 535.83,214.86" fill="none" stroke="#0000ff" stroke-width="1.8" stroke-linejoin="round" />
<circle cx="513.85" cy="214.02" r="3" fill="#0000ff"/>
<circle cx="524.84" cy="211.77" r="3" fill="#0000ff"/>
<circle cx="535.83" cy="214.86" r="3" fill="#0000ff"/>
<line x1="516.04" y1="219.5" x2="516.04" y2="207.13" stroke="#00bfbf" stroke-width="1.4" />
<line x1="527.03" y1="218.48" x2="527.03" y2="201.96" stroke="#00bfbf" stroke-width="1.4" />
<line x1="538.02" y1="219.65" x2="538.02" y2="208.52" stroke="#00bfbf" stroke-width="1.4" />
<polyline points="516.04,213.31 527.03,210.22 538.02,214.09" fill="none" stroke="#00bfbf" stroke-width="1.5" stroke-linejoin="round" />
<rect x="514.04" y="211.31" width="4" height="4" fill="#00bfbf"/>
<rect x="525.03" y="208.22" width="4" height="4" fill="#00bfbf"/>
<rect x="536.02" y="212.09" width="4" height="4" fill="#00bfbf"/>
<rect x="65.5" y="31.6" width="421" height="25.4" rx="2.5" ry="2.5" fill="#ffffff" fill-opacity="0.8" stroke="#cccccc" stroke-width="1"/>
<polyline points="70.8,44.5 92.4,44.5" fill="none" stroke="#000000" stroke-width="1.8" stroke-linejoin="round" stroke-dasharray="1.8 3.1"/>
<path d="M78.6,40.6L85.8,47.8M78.6,47.8L85.8,40.6" stroke="#000000" stroke-width="1.3" fill="none"/>
<line x1="178.1" y1="44.5" x2="204.1" y2="44.5" stroke="#bf00bf" stroke-width="1.7" />
<polygon points="191.1,40.4 190.22,43.09 187.39,43.09 189.68,44.76 188.81,47.46 191.1,45.79 193.39,47.46 192.52,44.76 194.81,43.09 191.98,43.09" fill="#bf00bf" stroke="#bf00bf" stroke-width="0.8" stroke-linejoin="miter"/>
<line x1="284.9" y1="44.5" x2="312.1" y2="44.5" stroke="#0000ff" stroke-width="1.7" />
<circle cx="298.3" cy="44.5" r="3" fill="#0000ff"/>
<line x1="390.1" y1="44.5" x2="416.1" y2="44.5" stroke="#00bfbf" stroke-width="1.7" />
<rect x="400" y="41.1" width="6" height="6" fill="#00bfbf"/>
<text x="105.6" y="47.6" font-size="12.8" text-anchor="start" fill="#000" font-family="'DejaVu Sans','Liberation Sans',sans-serif" font-style="italic">X</text>
<text x="114.85" y="42.7" font-size="8.96" text-anchor="start" fill="#000" font-family="'DejaVu Sans','Liberation Sans',sans-serif" font-style="italic">n</text>
<text x="114.35" y="51.1" font-size="8.96" text-anchor="start" fill="#000" font-family="'DejaVu Sans','Liberation Sans',sans-serif" font-style="italic">mrk</text>
<text x="131.2" y="47.6" font-size="12.8" text-anchor="start" fill="#000" font-family="'DejaVu Sans','Liberation Sans',sans-serif" >,</text>
<text x="139.05" y="47.6" font-size="12.8" text-anchor="start" fill="#000" font-family="'DejaVu Sans','Liberation Sans',sans-serif" >all</text>
<text x="213.65" y="47.6" font-size="12.8" text-anchor="start" fill="#000" font-family="'DejaVu Sans','Liberation Sans',sans-serif" font-style="italic">ψ</text>
<text x="222.85" y="42.7" font-size="8.96" text-anchor="start" fill="#000" font-family="'DejaVu Sans','Liberation Sans',sans-serif" font-style="italic">n</text>
<text x="221.35" y="51.1" font-size="8.96" text-anchor="start" fill="#000" font-family="'DejaVu Sans','Liberation Sans',sans-serif" font-style="italic">mrk</text>
<text x="238.5" y="47.6" font-size="12.8" text-anchor="start" fill="#000" font-family="'DejaVu Sans','Liberation Sans',sans-serif" >,</text>
<text x="246.75" y="47.6" font-size="12.8" text-anchor="start" fill="#000" font-family="'DejaVu Sans','Liberation Sans',sans-serif" >all</text>
<text x="321.2" y="47.5" font-size="12.8" text-anchor="start" fill="#000" font-family="'DejaVu Sans','Liberation Sans',sans-serif" font-style="italic">z</text>
<text x="328.15" y="42.4" font-size="8.96" text-anchor="start" fill="#000" font-family="'DejaVu Sans','Liberation Sans',sans-serif" font-style="italic">n</text>
<text x="333.3" y="43.6" font-size="6.27" text-anchor="start" fill="#000" font-family="'DejaVu Sans','Liberation Sans',sans-serif" font-style="italic">s</text>
<text x="326.85" y="50.9" font-size="8.96" text-anchor="start" fill="#000" font-family="'DejaVu Sans','Liberation Sans',sans-serif" font-style="italic">mrk</text>
<text x="344.1" y="47.5" font-size="12.8" text-anchor="start" fill="#000" font-family="'DejaVu Sans','Liberation Sans',sans-serif" >,</text>
<text x="351.85" y="47.5" font-size="12.8" text-anchor="start" fill="#000" font-family="'DejaVu Sans','Liberation Sans',sans-serif" >fit</text>
<text x="426.2" y="47.6" font-size="12.8" text-anchor="start" fill="#000" font-family="'DejaVu Sans','Liberation Sans',sans-serif" font-style="italic">z</text>
<text x="432.95" y="42.4" font-size="8.96" text-anchor="start" fill="#000" font-family="'DejaVu Sans','Liberation Sans',sans-serif" font-style="italic">n</text>
<text x="437.9" y="43.6" font-size="6.27" text-anchor="start" fill="#000" font-family="'DejaVu Sans','Liberation Sans',sans-serif" font-style="italic">s</text>
<text x="431.75" y="50.9" font-size="8.96" text-anchor="start" fill="#000" font-family="'DejaVu Sans','Liberation Sans',sans-serif" font-style="italic">mrk</text>
<text x="448.7" y="47.6" font-size="12.8" text-anchor="start" fill="#000" font-family="'DejaVu Sans','Liberation Sans',sans-serif" >,</text>
<text x="457.25" y="47.6" font-size="12.8" text-anchor="start" fill="#000" font-family="'DejaVu Sans','Liberation Sans',sans-serif" >test</text>
<rect x="59.4" y="25.3" width="483.5" height="201" fill="none" stroke="#000" stroke-width="1.2"/>
<line x1="59.4" y1="226.3" x2="63.4" y2="226.3" stroke="#000000" stroke-width="1.0" />
<text x="54.3" y="230.1" font-size="9.3" text-anchor="end" fill="#000" font-family="'DejaVu Sans','Liberation Sans',sans-serif" >0</text>
<line x1="59.4" y1="210.84" x2="63.4" y2="210.84" stroke="#000000" stroke-width="1.0" />
<text x="54.3" y="214.64" font-size="9.3" text-anchor="end" fill="#000" font-family="'DejaVu Sans','Liberation Sans',sans-serif" >5</text>
<line x1="59.4" y1="195.38" x2="63.4" y2="195.38" stroke="#000000" stroke-width="1.0" />
<text x="54.3" y="199.18" font-size="9.3" text-anchor="end" fill="#000" font-family="'DejaVu Sans','Liberation Sans',sans-serif" >10</text>
<line x1="59.4" y1="179.92" x2="63.4" y2="179.92" stroke="#000000" stroke-width="1.0" />
<text x="54.3" y="183.72" font-size="9.3" text-anchor="end" fill="#000" font-family="'DejaVu Sans','Liberation Sans',sans-serif" >15</text>
<line x1="59.4" y1="164.45" x2="63.4" y2="164.45" stroke="#000000" stroke-width="1.0" />
<text x="54.3" y="168.25" font-size="9.3" text-anchor="end" fill="#000" font-family="'DejaVu Sans','Liberation Sans',sans-serif" >20</text>
<line x1="59.4" y1="148.99" x2="63.4" y2="148.99" stroke="#000000" stroke-width="1.0" />
<text x="54.3" y="152.79" font-size="9.3" text-anchor="end" fill="#000" font-family="'DejaVu Sans','Liberation Sans',sans-serif" >25</text>
<line x1="59.4" y1="133.53" x2="63.4" y2="133.53" stroke="#000000" stroke-width="1.0" />
<text x="54.3" y="137.33" font-size="9.3" text-anchor="end" fill="#000" font-family="'DejaVu Sans','Liberation Sans',sans-serif" >30</text>
<line x1="59.4" y1="118.07" x2="63.4" y2="118.07" stroke="#000000" stroke-width="1.0" />
<text x="54.3" y="121.87" font-size="9.3" text-anchor="end" fill="#000" font-family="'DejaVu Sans','Liberation Sans',sans-serif" >35</text>
<line x1="59.4" y1="102.61" x2="63.4" y2="102.61" stroke="#000000" stroke-width="1.0" />
<text x="54.3" y="106.41" font-size="9.3" text-anchor="end" fill="#000" font-family="'DejaVu Sans','Liberation Sans',sans-serif" >40</text>
<line x1="59.4" y1="87.15" x2="63.4" y2="87.15" stroke="#000000" stroke-width="1.0" />
<text x="54.3" y="90.95" font-size="9.3" text-anchor="end" fill="#000" font-family="'DejaVu Sans','Liberation Sans',sans-serif" >45</text>
<line x1="59.4" y1="71.68" x2="63.4" y2="71.68" stroke="#000000" stroke-width="1.0" />
<text x="54.3" y="75.48" font-size="9.3" text-anchor="end" fill="#000" font-family="'DejaVu Sans','Liberation Sans',sans-serif" >50</text>
<line x1="59.4" y1="56.22" x2="63.4" y2="56.22" stroke="#000000" stroke-width="1.0" />
<text x="54.3" y="60.02" font-size="9.3" text-anchor="end" fill="#000" font-family="'DejaVu Sans','Liberation Sans',sans-serif" >55</text>
<line x1="59.4" y1="40.76" x2="63.4" y2="40.76" stroke="#000000" stroke-width="1.0" />
<text x="54.3" y="44.56" font-size="9.3" text-anchor="end" fill="#000" font-family="'DejaVu Sans','Liberation Sans',sans-serif" >60</text>
<line x1="59.4" y1="25.3" x2="63.4" y2="25.3" stroke="#000000" stroke-width="1.0" />
<text x="54.3" y="29.1" font-size="9.3" text-anchor="end" fill="#000" font-family="'DejaVu Sans','Liberation Sans',sans-serif" >65</text>
<line x1="69.85" y1="226.3" x2="69.85" y2="222.6" stroke="#000000" stroke-width="0.9" />
<line x1="80.84" y1="226.3" x2="80.84" y2="222.6" stroke="#000000" stroke-width="0.9" />
<line x1="91.83" y1="226.3" x2="91.83" y2="222.6" stroke="#000000" stroke-width="0.9" />
<line x1="102.82" y1="226.3" x2="102.82" y2="222.6" stroke="#000000" stroke-width="0.9" />
<line x1="113.81" y1="226.3" x2="113.81" y2="222.6" stroke="#000000" stroke-width="0.9" />
<line x1="124.8" y1="226.3" x2="124.8" y2="222.6" stroke="#000000" stroke-width="0.9" />
<line x1="135.79" y1="226.3" x2="135.79" y2="222.6" stroke="#000000" stroke-width="0.9" />
<line x1="146.78" y1="226.3" x2="146.78" y2="222.6" stroke="#000000" stroke-width="0.9" />
<line x1="157.77" y1="226.3" x2="157.77" y2="222.6" stroke="#000000" stroke-width="0.9" />
<line x1="168.76" y1="226.3" x2="168.76" y2="222.6" stroke="#000000" stroke-width="0.9" />
<line x1="179.75" y1="226.3" x2="179.75" y2="222.6" stroke="#000000" stroke-width="0.9" />
<line x1="190.74" y1="226.3" x2="190.74" y2="222.6" stroke="#000000" stroke-width="0.9" />
<line x1="201.73" y1="226.3" x2="201.73" y2="222.6" stroke="#000000" stroke-width="0.9" />
<line x1="212.72" y1="226.3" x2="212.72" y2="222.6" stroke="#000000" stroke-width="0.9" />
<line x1="223.71" y1="226.3" x2="223.71" y2="222.6" stroke="#000000" stroke-width="0.9" />
<line x1="234.7" y1="226.3" x2="234.7" y2="222.6" stroke="#000000" stroke-width="0.9" />
<line x1="245.69" y1="226.3" x2="245.69" y2="222.6" stroke="#000000" stroke-width="0.9" />
<line x1="256.68" y1="226.3" x2="256.68" y2="222.6" stroke="#000000" stroke-width="0.9" />
<line x1="267.67" y1="226.3" x2="267.67" y2="222.6" stroke="#000000" stroke-width="0.9" />
<line x1="278.66" y1="226.3" x2="278.66" y2="222.6" stroke="#000000" stroke-width="0.9" />
<line x1="289.65" y1="226.3" x2="289.65" y2="222.6" stroke="#000000" stroke-width="0.9" />
<line x1="300.64" y1="226.3" x2="300.64" y2="222.6" stroke="#000000" stroke-width="0.9" />
<line x1="311.63" y1="226.3" x2="311.63" y2="222.6" stroke="#000000" stroke-width="0.9" />
<line x1="322.62" y1="226.3" x2="322.62" y2="222.6" stroke="#000000" stroke-width="0.9" />
<line x1="333.61" y1="226.3" x2="333.61" y2="222.6" stroke="#000000" stroke-width="0.9" />
<line x1="344.6" y1="226.3" x2="344.6" y2="222.6" stroke="#000000" stroke-width="0.9" />
<line x1="355.59" y1="226.3" x2="355.59" y2="222.6" stroke="#000000" stroke-width="0.9" />
<line x1="366.58" y1="226.3" x2="366.58" y2="222.6" stroke="#000000" stroke-width="0.9" />
<line x1="377.57" y1="226.3" x2="377.57" y2="222.6" stroke="#000000" stroke-width="0.9" />
<line x1="388.56" y1="226.3" x2="388.56" y2="222.6" stroke="#000000" stroke-width="0.9" />
<line x1="399.55" y1="226.3" x2="399.55" y2="222.6" stroke="#000000" stroke-width="0.9" />
<line x1="410.54" y1="226.3" x2="410.54" y2="222.6" stroke="#000000" stroke-width="0.9" />
<line x1="421.53" y1="226.3" x2="421.53" y2="222.6" stroke="#000000" stroke-width="0.9" />
<line x1="432.52" y1="226.3" x2="432.52" y2="222.6" stroke="#000000" stroke-width="0.9" />
<line x1="443.51" y1="226.3" x2="443.51" y2="222.6" stroke="#000000" stroke-width="0.9" />
<line x1="454.5" y1="226.3" x2="454.5" y2="222.6" stroke="#000000" stroke-width="0.9" />
<line x1="465.49" y1="226.3" x2="465.49" y2="222.6" stroke="#000000" stroke-width="0.9" />
<line x1="476.48" y1="226.3" x2="476.48" y2="222.6" stroke="#000000" stroke-width="0.9" />
<line x1="487.47" y1="226.3" x2="487.47" y2="222.6" stroke="#000000" stroke-width="0.9" />
<line x1="498.46" y1="226.3" x2="498.46" y2="222.6" stroke="#000000" stroke-width="0.9" />
<line x1="509.45" y1="226.3" x2="509.45" y2="222.6" stroke="#000000" stroke-width="0.9" />
<line x1="520.44" y1="226.3" x2="520.44" y2="222.6" stroke="#000000" stroke-width="0.9" />
<line x1="531.43" y1="226.3" x2="531.43" y2="222.6" stroke="#000000" stroke-width="0.9" />
<g transform="translate(69.55,258.7) rotate(-30)">
<text x="0" y="-3.4" font-size="10.0" text-anchor="middle" fill="#000" font-family="'DejaVu Sans','Liberation Sans',sans-serif" >DAPI</text>
<text x="0" y="8.4" font-size="10.0" text-anchor="middle" fill="#000" font-family="'DejaVu Sans','Liberation Sans',sans-serif" >[440...600 nm]</text>
</g>
<g transform="translate(146.48,258.7) rotate(-30)">
<text x="0" y="-3.4" font-size="10.0" text-anchor="middle" fill="#000" font-family="'DejaVu Sans','Liberation Sans',sans-serif" >Opal 780</text>
<text x="0" y="8.4" font-size="10.0" text-anchor="middle" fill="#000" font-family="'DejaVu Sans','Liberation Sans',sans-serif" >[760...780 nm]</text>
</g>
<g transform="translate(201.43,258.7) rotate(-30)">
<text x="0" y="-3.4" font-size="10.0" text-anchor="middle" fill="#000" font-family="'DejaVu Sans','Liberation Sans',sans-serif" >FITC</text>
<text x="0" y="8.4" font-size="10.0" text-anchor="middle" fill="#000" font-family="'DejaVu Sans','Liberation Sans',sans-serif" >[520...680 nm]</text>
</g>
<g transform="translate(289.35,258.7) rotate(-30)">
<text x="0" y="-3.4" font-size="10.0" text-anchor="middle" fill="#000" font-family="'DejaVu Sans','Liberation Sans',sans-serif" >Cy3</text>
<text x="0" y="8.4" font-size="10.0" text-anchor="middle" fill="#000" font-family="'DejaVu Sans','Liberation Sans',sans-serif" >[570...690 nm]</text>
</g>
<g transform="translate(366.28,258.7) rotate(-30)">
<text x="0" y="-3.4" font-size="10.0" text-anchor="middle" fill="#000" font-family="'DejaVu Sans','Liberation Sans',sans-serif" >Texas Red</text>
<text x="0" y="8.4" font-size="10.0" text-anchor="middle" fill="#000" font-family="'DejaVu Sans','Liberation Sans',sans-serif" >[580...700 nm]</text>
</g>
<g transform="translate(443.21,258.7) rotate(-30)">
<text x="0" y="-3.4" font-size="10.0" text-anchor="middle" fill="#000" font-family="'DejaVu Sans','Liberation Sans',sans-serif" >Opal 480</text>
<text x="0" y="8.4" font-size="10.0" text-anchor="middle" fill="#000" font-family="'DejaVu Sans','Liberation Sans',sans-serif" >[460...560 nm]</text>
</g>
<g transform="translate(509.15,258.7) rotate(-30)">
<text x="0" y="-3.4" font-size="10.0" text-anchor="middle" fill="#000" font-family="'DejaVu Sans','Liberation Sans',sans-serif" >Cy5</text>
<text x="0" y="8.4" font-size="10.0" text-anchor="middle" fill="#000" font-family="'DejaVu Sans','Liberation Sans',sans-serif" >[680...720 nm]</text>
</g>
<text transform="translate(34.4,126.7) rotate(-90)" font-size="14.9" text-anchor="middle" font-family="'DejaVu Sans','Liberation Sans',sans-serif">Standard deviation [%]</text>
<text x="3" y="12.7" font-size="15" text-anchor="start" fill="#000" font-family="'Liberation Serif',serif" font-weight="bold">A</text>
<line x1="253.08" y1="317.1" x2="253.08" y2="515.4" stroke="#c0c0c0" stroke-width="1.1" />
<line x1="293.86" y1="317.1" x2="293.86" y2="515.4" stroke="#c0c0c0" stroke-width="1.1" />
<line x1="334.64" y1="317.1" x2="334.64" y2="515.4" stroke="#c0c0c0" stroke-width="1.1" />
<line x1="375.42" y1="317.1" x2="375.42" y2="515.4" stroke="#c0c0c0" stroke-width="1.1" />
<line x1="212.3" y1="487.07" x2="416.2" y2="487.07" stroke="#c0c0c0" stroke-width="1.1" />
<line x1="212.3" y1="458.74" x2="416.2" y2="458.74" stroke="#c0c0c0" stroke-width="1.1" />
<line x1="212.3" y1="430.41" x2="416.2" y2="430.41" stroke="#c0c0c0" stroke-width="1.1" />
<line x1="212.3" y1="402.09" x2="416.2" y2="402.09" stroke="#c0c0c0" stroke-width="1.1" />
<line x1="212.3" y1="373.76" x2="416.2" y2="373.76" stroke="#c0c0c0" stroke-width="1.1" />
<line x1="212.3" y1="345.43" x2="416.2" y2="345.43" stroke="#c0c0c0" stroke-width="1.1" />
<path d="M248.08,341.28L258.08,351.28M248.08,351.28L258.08,341.28" stroke="#000000" stroke-width="1.2" fill="none"/>
<polygon points="293.86,426.38 292.74,429.83 289.1,429.83 292.04,431.97 290.92,435.42 293.86,433.29 296.8,435.42 295.68,431.97 298.62,429.83 294.98,429.83" fill="#bf00bf" stroke="#bf00bf" stroke-width="0.8" stroke-linejoin="miter"/>
<circle cx="330.56" cy="500.33" r="5.25" fill="#0000ff"/>
<rect x="333.72" y="493.91" width="10" height="10" fill="#00bfbf"/>
<line x1="336.72" y1="498.91" x2="340.72" y2="498.91" stroke="#307070" stroke-width="1" />
<text x="248.5" y="341" font-size="12.2" text-anchor="start" fill="#000" font-family="'DejaVu Sans','Liberation Sans',sans-serif" >29.85%</text>
<text x="289.6" y="426.2" font-size="12.2" text-anchor="start" fill="#000" font-family="'DejaVu Sans','Liberation Sans',sans-serif" >14.83%</text>
<text x="331.5" y="471.6" font-size="12.2" text-anchor="start" fill="#0000ff" font-family="'DejaVu Sans','Liberation Sans',sans-serif" >2.66±0.01%</text>
<text x="331" y="485.2" font-size="12.2" text-anchor="start" fill="#00bfbf" font-family="'DejaVu Sans','Liberation Sans',sans-serif" >2.91±0.03%</text>
<rect x="310.3" y="323.5" width="98.6" height="90.8" rx="2.5" ry="2.5" fill="#ffffff" fill-opacity="0.8" stroke="#cccccc" stroke-width="1"/>
<path d="M322.4,330.3L332.4,340.3M322.4,340.3L332.4,330.3" stroke="#000000" stroke-width="1.2" fill="none"/>
<polygon points="327.4,351.2 326.28,354.65 322.64,354.65 325.58,356.79 324.46,360.25 327.4,358.11 330.34,360.25 329.22,356.79 332.16,354.65 328.52,354.65" fill="#bf00bf" stroke="#bf00bf" stroke-width="0.8" stroke-linejoin="miter"/>
<circle cx="327.4" cy="379.8" r="5.25" fill="#0000ff"/>
<rect x="322.4" y="397.4" width="10" height="10" fill="#00bfbf"/>
<text x="350.78" y="338.6" font-size="12.2" text-anchor="start" fill="#000" font-family="'DejaVu Sans','Liberation Sans',sans-serif" font-style="italic">X</text>
<text x="358.96" y="334.3" font-size="8.54" text-anchor="start" fill="#000" font-family="'DejaVu Sans','Liberation Sans',sans-serif" font-style="italic">n</text>
<text x="358.76" y="341.6" font-size="8.54" text-anchor="start" fill="#000" font-family="'DejaVu Sans','Liberation Sans',sans-serif" font-style="italic">mrk</text>
<text x="375.35" y="338.6" font-size="12.2" text-anchor="start" fill="#000" font-family="'DejaVu Sans','Liberation Sans',sans-serif" >,</text>
<text x="383.29" y="338.6" font-size="12.2" text-anchor="start" fill="#000" font-family="'DejaVu Sans','Liberation Sans',sans-serif" >all</text>
<text x="349.59" y="359.9" font-size="12.2" text-anchor="start" fill="#000" font-family="'DejaVu Sans','Liberation Sans',sans-serif" font-style="italic">ψ</text>
<text x="358.26" y="355.4" font-size="8.54" text-anchor="start" fill="#000" font-family="'DejaVu Sans','Liberation Sans',sans-serif" font-style="italic">n</text>
<text x="356.96" y="363.1" font-size="8.54" text-anchor="start" fill="#000" font-family="'DejaVu Sans','Liberation Sans',sans-serif" font-style="italic">mrk</text>
<text x="373.55" y="359.9" font-size="12.2" text-anchor="start" fill="#000" font-family="'DejaVu Sans','Liberation Sans',sans-serif" >,</text>
<text x="382.69" y="359.9" font-size="12.2" text-anchor="start" fill="#000" font-family="'DejaVu Sans','Liberation Sans',sans-serif" >all</text>
<text x="350.3" y="383.4" font-size="12.2" text-anchor="start" fill="#000" font-family="'DejaVu Sans','Liberation Sans',sans-serif" font-style="italic">z</text>
<text x="357.56" y="378.6" font-size="8.54" text-anchor="start" fill="#000" font-family="'DejaVu Sans','Liberation Sans',sans-serif" font-style="italic">n</text>
<text x="362.8" y="379.8" font-size="5.98" text-anchor="start" fill="#000" font-family="'DejaVu Sans','Liberation Sans',sans-serif" font-style="italic">s</text>
<text x="355.56" y="386.8" font-size="8.54" text-anchor="start" fill="#000" font-family="'DejaVu Sans','Liberation Sans',sans-serif" font-style="italic">mrk</text>
<text x="373.85" y="383.4" font-size="12.2" text-anchor="start" fill="#000" font-family="'DejaVu Sans','Liberation Sans',sans-serif" >,</text>
<text x="380.76" y="383.4" font-size="12.2" text-anchor="start" fill="#000" font-family="'DejaVu Sans','Liberation Sans',sans-serif" >fit</text>
<text x="350.3" y="405.2" font-size="12.2" text-anchor="start" fill="#000" font-family="'DejaVu Sans','Liberation Sans',sans-serif" font-style="italic">z</text>
<text x="357.56" y="400.4" font-size="8.54" text-anchor="start" fill="#000" font-family="'DejaVu Sans','Liberation Sans',sans-serif" font-style="italic">n</text>
<text x="362.8" y="401.6" font-size="5.98" text-anchor="start" fill="#000" font-family="'DejaVu Sans','Liberation Sans',sans-serif" font-style="italic">s</text>
<text x="355.56" y="408.6" font-size="8.54" text-anchor="start" fill="#000" font-family="'DejaVu Sans','Liberation Sans',sans-serif" font-style="italic">mrk</text>
<text x="373.85" y="405.2" font-size="12.2" text-anchor="start" fill="#000" font-family="'DejaVu Sans','Liberation Sans',sans-serif" >,</text>
<text x="380.76" y="405.2" font-size="12.2" text-anchor="start" fill="#000" font-family="'DejaVu Sans','Liberation Sans',sans-serif" >test</text>
<rect x="212.3" y="317.1" width="203.9" height="198.3" fill="none" stroke="#000" stroke-width="1.2"/>
<line x1="212.3" y1="515.4" x2="215.8" y2="515.4" stroke="#000000" stroke-width="1.0" />
<text x="207.9" y="519" font-size="8.8" text-anchor="end" fill="#000" font-family="'DejaVu Sans','Liberation Sans',sans-serif" >0</text>
<line x1="212.3" y1="487.07" x2="215.8" y2="487.07" stroke="#000000" stroke-width="1.0" />
<text x="207.9" y="490.67" font-size="8.8" text-anchor="end" fill="#000" font-family="'DejaVu Sans','Liberation Sans',sans-serif" >5</text>
<line x1="212.3" y1="458.74" x2="215.8" y2="458.74" stroke="#000000" stroke-width="1.0" />
<text x="207.9" y="462.34" font-size="8.8" text-anchor="end" fill="#000" font-family="'DejaVu Sans','Liberation Sans',sans-serif" >10</text>
<line x1="212.3" y1="430.41" x2="215.8" y2="430.41" stroke="#000000" stroke-width="1.0" />
<text x="207.9" y="434.01" font-size="8.8" text-anchor="end" fill="#000" font-family="'DejaVu Sans','Liberation Sans',sans-serif" >15</text>
<line x1="212.3" y1="402.09" x2="215.8" y2="402.09" stroke="#000000" stroke-width="1.0" />
<text x="207.9" y="405.69" font-size="8.8" text-anchor="end" fill="#000" font-family="'DejaVu Sans','Liberation Sans',sans-serif" >20</text>
<line x1="212.3" y1="373.76" x2="215.8" y2="373.76" stroke="#000000" stroke-width="1.0" />
<text x="207.9" y="377.36" font-size="8.8" text-anchor="end" fill="#000" font-family="'DejaVu Sans','Liberation Sans',sans-serif" >25</text>
<line x1="212.3" y1="345.43" x2="215.8" y2="345.43" stroke="#000000" stroke-width="1.0" />
<text x="207.9" y="349.03" font-size="8.8" text-anchor="end" fill="#000" font-family="'DejaVu Sans','Liberation Sans',sans-serif" >30</text>
<line x1="212.3" y1="317.1" x2="215.8" y2="317.1" stroke="#000000" stroke-width="1.0" />
<text x="207.9" y="320.7" font-size="8.8" text-anchor="end" fill="#000" font-family="'DejaVu Sans','Liberation Sans',sans-serif" >35</text>
<line x1="212.3" y1="515.4" x2="212.3" y2="511.9" stroke="#000000" stroke-width="1.0" />
<text x="212.3" y="526.7" font-size="8.8" text-anchor="middle" fill="#000" font-family="'DejaVu Sans','Liberation Sans',sans-serif" >0</text>
<line x1="253.08" y1="515.4" x2="253.08" y2="511.9" stroke="#000000" stroke-width="1.0" />
<text x="253.08" y="526.7" font-size="8.8" text-anchor="middle" fill="#000" font-family="'DejaVu Sans','Liberation Sans',sans-serif" >1</text>
<line x1="293.86" y1="515.4" x2="293.86" y2="511.9" stroke="#000000" stroke-width="1.0" />
<text x="293.86" y="526.7" font-size="8.8" text-anchor="middle" fill="#000" font-family="'DejaVu Sans','Liberation Sans',sans-serif" >2</text>
<line x1="334.64" y1="515.4" x2="334.64" y2="511.9" stroke="#000000" stroke-width="1.0" />
<text x="334.64" y="526.7" font-size="8.8" text-anchor="middle" fill="#000" font-family="'DejaVu Sans','Liberation Sans',sans-serif" >3</text>
<line x1="375.42" y1="515.4" x2="375.42" y2="511.9" stroke="#000000" stroke-width="1.0" />
<text x="375.42" y="526.7" font-size="8.8" text-anchor="middle" fill="#000" font-family="'DejaVu Sans','Liberation Sans',sans-serif" >4</text>
<text transform="translate(188.0,416.2) rotate(-90)" font-size="14.6" text-anchor="middle" font-family="'DejaVu Sans','Liberation Sans',sans-serif">Standard deviation [%]</text>
<text transform="translate(158.9,305.0) scale(0.88,1.02)" font-size="15" font-weight="bold" font-family="'Liberation Serif',serif">B</text>
</svg></body></html>
